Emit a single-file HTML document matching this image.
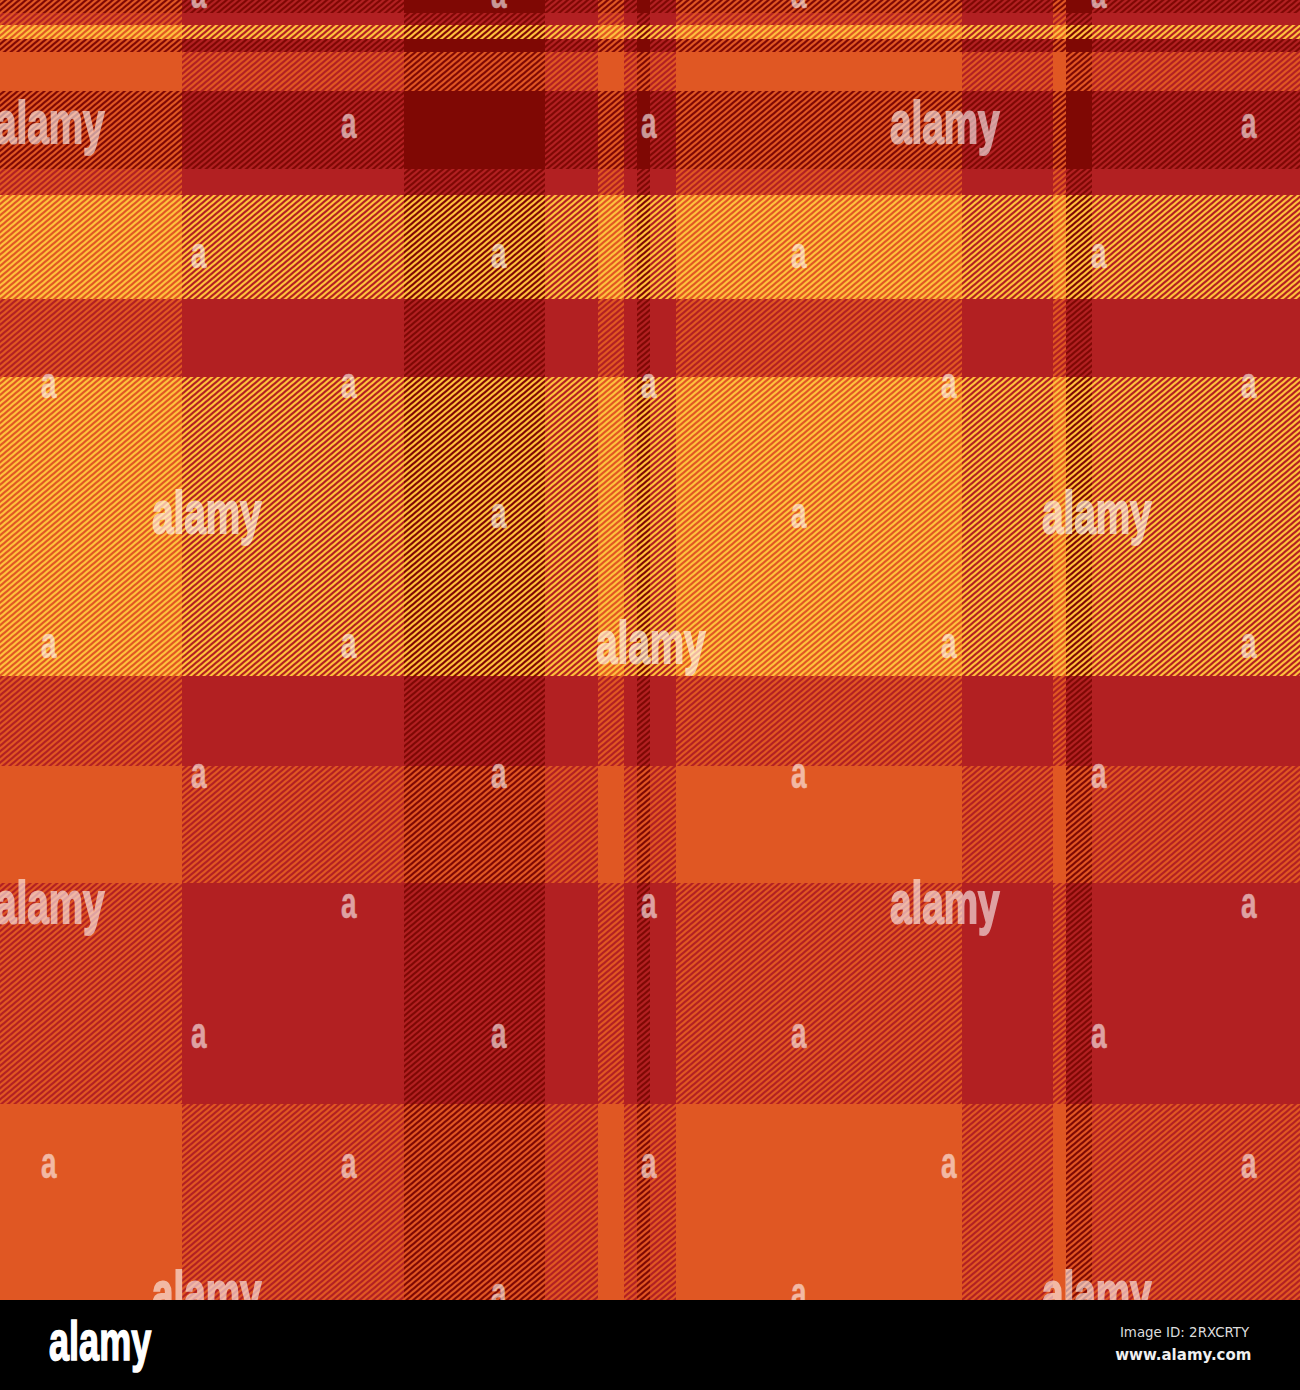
<!DOCTYPE html>
<html><head><meta charset="utf-8"><style>
html,body{margin:0;padding:0;background:#000;}
body{width:1300px;height:1390px;position:relative;overflow:hidden;}
#plaid{position:absolute;left:0;top:0;width:1300px;height:1300px;background:linear-gradient(to bottom, #7F0804 0px 12.6px, #B22022 12.6px 25.5px, #FFC23C 25.5px 38.8px, #7F0804 38.8px 51.8px, #E05723 51.8px 91px, #7F0804 91px 168.7px, #B22022 168.7px 194.6px, #FFC23C 194.6px 299px, #B22022 299px 377px, #FFC23C 377px 675.7px, #B22022 675.7px 766.5px, #E05723 766.5px 883.3px, #B22022 883.3px 1104.4px, #E05723 1104.4px 1300px);overflow:hidden;}
.vb{position:absolute;top:0;height:1300px;overflow:hidden;}
.vb>div{position:absolute;top:0;width:1300px;height:1300px;}
.sa,.ba{position:absolute;font-family:"Liberation Sans",sans-serif;font-weight:bold;color:#fff;-webkit-text-stroke:0.4px #fff;opacity:0.58;white-space:nowrap;line-height:1;transform-origin:0 0;}
.sa{font-size:44.5px;transform:scaleX(0.63);}
.ba{font-size:60px;transform:scaleX(0.644);-webkit-text-stroke-width:2.0px;}
#bar{position:absolute;left:0;top:1300px;width:1300px;height:90px;background:#000;}
#logo{position:absolute;left:49.4px;top:12.6px;font-family:"Liberation Sans",sans-serif;font-weight:bold;font-size:56px;color:#fff;-webkit-text-stroke:1.6px #fff;transform:scaleX(0.644);transform-origin:0 0;line-height:1;white-space:nowrap;}
#iid{position:absolute;left:1119.9px;top:25.9px;font-family:"DejaVu Sans",sans-serif;font-size:13.4px;color:#dcdcdc;line-height:1;white-space:nowrap;}
#www{position:absolute;left:1115.2px;top:48.4px;font-family:"DejaVu Sans",sans-serif;font-weight:bold;font-size:15px;color:#f0f0f0;line-height:1;white-space:nowrap;}
</style></head><body>
<div id="plaid"><div class="vb" style="left:0px;width:182.0px"><div style="left:-0px;background:repeating-linear-gradient(140deg,transparent 0.000px,#E05723 1.075px,#E05723 2.150px,transparent 3.225px,transparent 4.300px)"></div></div>
<div class="vb" style="left:182px;width:221.7px"><div style="left:-182px;background:repeating-linear-gradient(140deg,transparent 0.000px,#B22022 1.075px,#B22022 2.150px,transparent 3.225px,transparent 4.300px)"></div></div>
<div class="vb" style="left:403.7px;width:141.3px"><div style="left:-403.7px;background:repeating-linear-gradient(140deg,transparent 0.000px,#7F0804 1.075px,#7F0804 2.150px,transparent 3.225px,transparent 4.300px)"></div></div>
<div class="vb" style="left:545px;width:52.7px"><div style="left:-545px;background:repeating-linear-gradient(140deg,transparent 0.000px,#B22022 1.075px,#B22022 2.150px,transparent 3.225px,transparent 4.300px)"></div></div>
<div class="vb" style="left:597.7px;width:26.2px"><div style="left:-597.7px;background:repeating-linear-gradient(140deg,transparent 0.000px,#E05723 1.075px,#E05723 2.150px,transparent 3.225px,transparent 4.300px)"></div></div>
<div class="vb" style="left:623.9px;width:12.7px"><div style="left:-623.9px;background:repeating-linear-gradient(140deg,transparent 0.000px,#B22022 1.075px,#B22022 2.150px,transparent 3.225px,transparent 4.300px)"></div></div>
<div class="vb" style="left:636.6px;width:13.1px"><div style="left:-636.6px;background:repeating-linear-gradient(140deg,transparent 0.000px,#7F0804 1.075px,#7F0804 2.150px,transparent 3.225px,transparent 4.300px)"></div></div>
<div class="vb" style="left:649.7px;width:26.1px"><div style="left:-649.7px;background:repeating-linear-gradient(140deg,transparent 0.000px,#B22022 1.075px,#B22022 2.150px,transparent 3.225px,transparent 4.300px)"></div></div>
<div class="vb" style="left:675.8px;width:286.0px"><div style="left:-675.8px;background:repeating-linear-gradient(140deg,transparent 0.000px,#E05723 1.075px,#E05723 2.150px,transparent 3.225px,transparent 4.300px)"></div></div>
<div class="vb" style="left:961.8px;width:90.9px"><div style="left:-961.8px;background:repeating-linear-gradient(140deg,transparent 0.000px,#B22022 1.075px,#B22022 2.150px,transparent 3.225px,transparent 4.300px)"></div></div>
<div class="vb" style="left:1052.7px;width:13.5px"><div style="left:-1052.7px;background:repeating-linear-gradient(140deg,transparent 0.000px,#E05723 1.075px,#E05723 2.150px,transparent 3.225px,transparent 4.300px)"></div></div>
<div class="vb" style="left:1066.2px;width:26.1px"><div style="left:-1066.2px;background:repeating-linear-gradient(140deg,transparent 0.000px,#7F0804 1.075px,#7F0804 2.150px,transparent 3.225px,transparent 4.300px)"></div></div>
<div class="vb" style="left:1092.3px;width:207.7px"><div style="left:-1092.3px;background:repeating-linear-gradient(140deg,transparent 0.000px,#B22022 1.075px,#B22022 2.150px,transparent 3.225px,transparent 4.300px)"></div></div>
<span class="sa" style="left:190.8px;top:-29.3px">a</span>
<span class="sa" style="left:490.8px;top:-29.3px">a</span>
<span class="sa" style="left:790.8px;top:-29.3px">a</span>
<span class="sa" style="left:1090.8px;top:-29.3px">a</span>
<span class="sa" style="left:340.8px;top:100.7px">a</span>
<span class="sa" style="left:640.8px;top:100.7px">a</span>
<span class="sa" style="left:1240.8px;top:100.7px">a</span>
<span class="sa" style="left:190.8px;top:230.7px">a</span>
<span class="sa" style="left:490.8px;top:230.7px">a</span>
<span class="sa" style="left:790.8px;top:230.7px">a</span>
<span class="sa" style="left:1090.8px;top:230.7px">a</span>
<span class="sa" style="left:40.8px;top:360.7px">a</span>
<span class="sa" style="left:340.8px;top:360.7px">a</span>
<span class="sa" style="left:640.8px;top:360.7px">a</span>
<span class="sa" style="left:940.8px;top:360.7px">a</span>
<span class="sa" style="left:1240.8px;top:360.7px">a</span>
<span class="sa" style="left:490.8px;top:490.7px">a</span>
<span class="sa" style="left:790.8px;top:490.7px">a</span>
<span class="sa" style="left:40.8px;top:620.7px">a</span>
<span class="sa" style="left:340.8px;top:620.7px">a</span>
<span class="sa" style="left:940.8px;top:620.7px">a</span>
<span class="sa" style="left:1240.8px;top:620.7px">a</span>
<span class="sa" style="left:190.8px;top:750.7px">a</span>
<span class="sa" style="left:490.8px;top:750.7px">a</span>
<span class="sa" style="left:790.8px;top:750.7px">a</span>
<span class="sa" style="left:1090.8px;top:750.7px">a</span>
<span class="sa" style="left:340.8px;top:880.7px">a</span>
<span class="sa" style="left:640.8px;top:880.7px">a</span>
<span class="sa" style="left:1240.8px;top:880.7px">a</span>
<span class="sa" style="left:190.8px;top:1010.7px">a</span>
<span class="sa" style="left:490.8px;top:1010.7px">a</span>
<span class="sa" style="left:790.8px;top:1010.7px">a</span>
<span class="sa" style="left:1090.8px;top:1010.7px">a</span>
<span class="sa" style="left:40.8px;top:1140.7px">a</span>
<span class="sa" style="left:340.8px;top:1140.7px">a</span>
<span class="sa" style="left:640.8px;top:1140.7px">a</span>
<span class="sa" style="left:940.8px;top:1140.7px">a</span>
<span class="sa" style="left:1240.8px;top:1140.7px">a</span>
<span class="sa" style="left:490.8px;top:1270.7px">a</span>
<span class="sa" style="left:790.8px;top:1270.7px">a</span>
<span class="ba" style="left:-5.5px;top:92.7px">alamy</span>
<span class="ba" style="left:890.3px;top:92.7px">alamy</span>
<span class="ba" style="left:152.0px;top:482.7px">alamy</span>
<span class="ba" style="left:1042.4px;top:482.7px">alamy</span>
<span class="ba" style="left:596.2px;top:612.7px">alamy</span>
<span class="ba" style="left:-5.5px;top:872.7px">alamy</span>
<span class="ba" style="left:890.3px;top:872.7px">alamy</span>
<span class="ba" style="left:152.0px;top:1262.7px">alamy</span>
<span class="ba" style="left:1042.4px;top:1262.7px">alamy</span>
</div>
<div id="bar"><div id="logo">alamy</div><div id="iid">Image ID: 2RXCRTY</div><div id="www">www.alamy.com</div></div>
</body></html>
